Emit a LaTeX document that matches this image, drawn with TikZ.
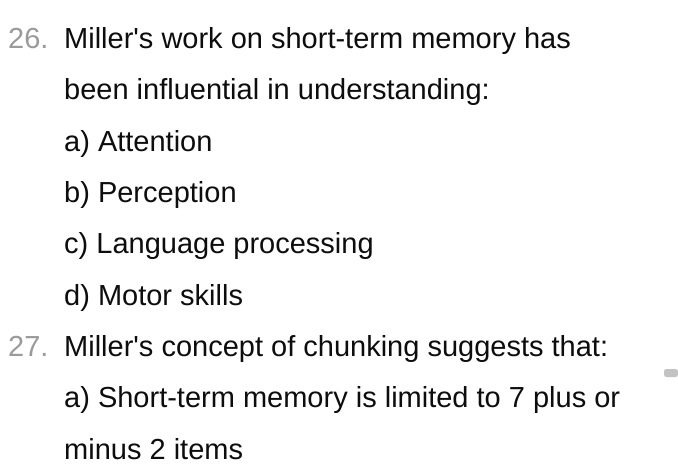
\documentclass[tikz,border=0pt]{standalone}
\usepackage{fontspec}
\setmainfont{Liberation Sans}
\definecolor{txt}{HTML}{0D0D0D}
\definecolor{num}{HTML}{9A9A9A}
\begin{document}
\begin{tikzpicture}[x=1pt,y=-1pt,
  line/.style={anchor=base west,inner sep=0pt,font=\fontsize{29}{33}\selectfont,text=txt},
  numl/.style={anchor=base west,inner sep=0pt,font=\fontsize{29}{33}\selectfont,text=num}]
\useasboundingbox[fill=white] (0,0) rectangle (678,467);
\node[numl] (n26) at (8,48) {26.};
\node[line] (l1) at (64,48) {Miller\textquotesingle s work on short-term memory has};
\node[line] (l2) at (64,99.5) {been influential in understanding:};
\node[line] (l3) at (64,151) {a) Attention};
\node[line] (l4) at (64,202) {b) Perception};
\node[line] (l5) at (64,253) {c) Language processing};
\node[line] (l6) at (64,305) {d) Motor skills};
\node[numl] (n27) at (8,356) {27.};
\node[line] (l7) at (64,356) {Miller\textquotesingle s concept of chunking suggests that:};
\node[line] (l8) at (64,407) {a) Short-term memory is limited to 7 plus or};
\node[line] (l9) at (64,459) {minus 2 items};
\fill[num!60,rounded corners=2.5pt] (664,369) rectangle (678,377);
\end{tikzpicture}
\end{document}
